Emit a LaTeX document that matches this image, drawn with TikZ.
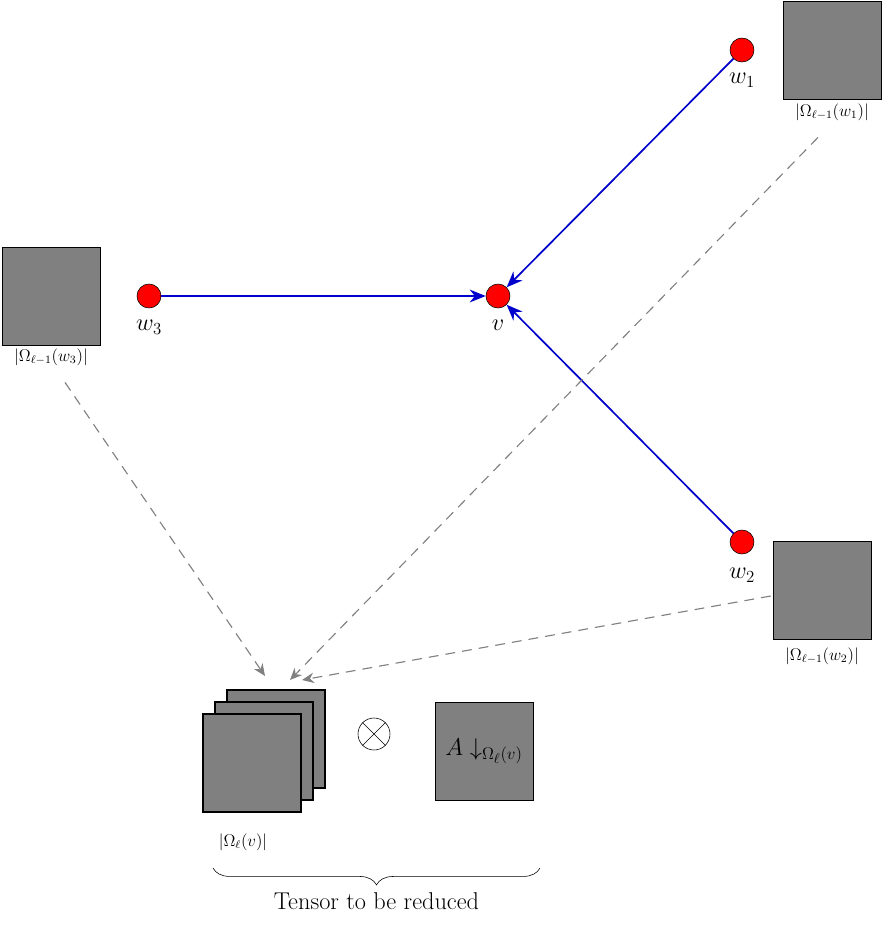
\documentclass[tikz,border=0pt]{standalone}
\usetikzlibrary{arrows.meta,decorations.pathreplacing}
\begin{document}
\begin{tikzpicture}[x=0.025cm,y=-0.025cm,
  vert/.style={circle, draw, fill=red, minimum size=0.6cm, inner sep=0pt},
  mat/.style={rectangle, draw, fill=gray, minimum size=2.45cm, inner sep=0pt},
  edge/.style={-{Stealth[length=4mm,width=3.2mm]}, blue!80!black, line width=1.2pt},
  feed/.style={-{Stealth[length=3mm,width=2.6mm]}, gray, dashed, dash pattern=on 7pt off 5pt, thick},
  lab/.style={font=\LARGE},
  size/.style={font=\large}
]
\useasboundingbox (0,0) rectangle (884,936);

% graph vertices
\node[vert] (v) at (498,296) {};
\node[vert] (w1) at (742,50) {};
\node[vert] (w2) at (742,542) {};
\node[vert] (w3) at (149,296) {};
\node[lab] at (498,325) {$v$};
\node[lab] at (742,80) {$w_1$};
\node[lab] at (742,575) {$w_2$};
\node[lab] at (149,327) {$w_3$};

\draw[edge] (w1) -- (v);
\draw[edge] (w2) -- (v);
\draw[edge] (w3) -- (v);

% neighbour tensors
\node[mat] (m1) at (832,50) {};
\node[size] (s1) at (832,112) {$|\Omega_{\ell-1}(w_1)|$};
\node[mat] (m3) at (51,296) {};
\node[size] (s3) at (51,357) {$|\Omega_{\ell-1}(w_3)|$};
\node[mat] (m2) at (822,590) {};
\node[size] (s2) at (822,656) {$|\Omega_{\ell-1}(w_2)|$};

% stacked tensor
\node[mat, line width=1pt] (k3) at (276,739) {};
\node[mat, line width=1pt] (k2) at (264,751) {};
\node[mat, line width=1pt] (k1) at (252,763) {};
\node[size] (sk) at (243,842) {$|\Omega_{\ell}(v)|$};
\node[circle, draw, minimum size=0.8cm, inner sep=0pt, font=\LARGE] (ot) at (374,734) {};
\draw (ot.north west) -- (ot.south east) (ot.north east) -- (ot.south west);
\node[mat, font=\LARGE] (a) at (484,751) {$A\downarrow_{\Omega_\ell(v)}$};

\coordinate (t3) at (265,676);
\coordinate (t1) at (290,680);
\coordinate (t2) at (302,680);
\draw[feed] (s3.south) ++(14,12) -- (t3);
\draw[feed] (s1.south) ++(-14,12) -- (t1);
\draw[feed] (m2.west) ++(-2,6) -- (t2);

% brace
\coordinate (b1) at (213,868);
\coordinate (b2) at (540,868);
\draw[decorate, decoration={brace, amplitude=12pt, mirror}] (b1) -- (b2)
  node[midway, below=14pt, font=\LARGE] (tl) {Tensor to be reduced};
\end{tikzpicture}
\end{document}
